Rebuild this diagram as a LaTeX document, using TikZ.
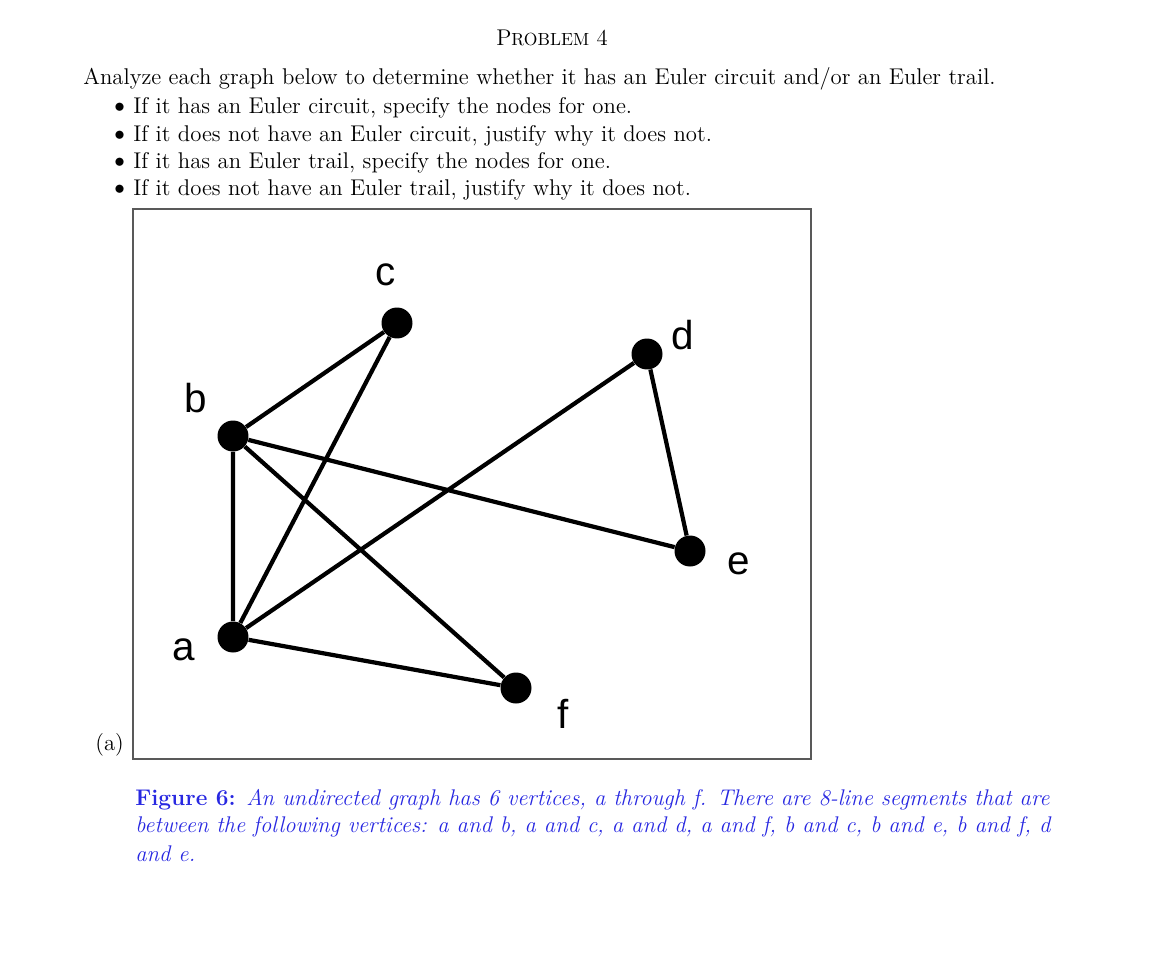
\documentclass[tikz,border=0pt]{standalone}
\usepackage{fontspec}
\setmainfont{Latin Modern Roman}
\setsansfont{Liberation Sans}
\definecolor{capblue}{RGB}{40,40,225}
\begin{document}
\begin{tikzpicture}[x=0.02cm,y=-0.02cm,
  txt/.style={anchor=west,inner sep=0,font=\fontsize{12.95}{15}\selectfont},
  vtx/.style={circle,fill=black,inner sep=0,minimum size=0.62cm},
  lbl/.style={font=\sffamily\fontsize{23}{26}\selectfont,inner sep=0},
  edge/.style={line width=2.4pt},
  captxt/.style={anchor=west,inner sep=0,font=\fontsize{12.9}{15}\selectfont\itshape,text=capblue}]
\useasboundingbox (0,0) rectangle (1174,960);
\node[inner sep=0,font=\fontsize{12.95}{15}\selectfont] (title) at (552,38) {P{\fontsize{10}{12}\selectfont ROBLEM} 4};
\node[txt] (intro) at (83,79) {Analyze each graph below to determine whether it has an Euler circuit and/or an Euler trail.};
\foreach \y/\t [count=\i] in {108/{If it has an Euler circuit, specify the nodes for one.},
  136/{If it does not have an Euler circuit, justify why it does not.},
  163/{If it has an Euler trail, specify the nodes for one.},
  190/{If it does not have an Euler trail, justify why it does not.}}{
  \node[txt] (bul\i) at (114,\y) {$\bullet$};
  \node[txt] (it\i) at (133,\y) {\t};
}
\draw[line width=0.6pt,gray!70!black] (133,209) rectangle (811,759);
\node[txt] (sub) at (95,745) {(a)};
\node[vtx] (c) at (397,323) {};
\node[vtx] (d) at (647,354) {};
\node[vtx] (b) at (233,436) {};
\node[vtx] (e) at (690,551) {};
\node[vtx] (a) at (233,637) {};
\node[vtx] (f) at (516,688) {};
\node[lbl] (lc) at (386,275) {c};
\node[lbl] (ld) at (683,335) {d};
\node[lbl] (lb) at (196,398) {b};
\node[lbl] (le) at (739,564) {e};
\node[lbl] (la) at (184,650) {a};
\node[lbl] (lf) at (563,714) {f};
\draw[edge] (a)--(b) (a)--(c) (a)--(d) (a)--(f) (b)--(c) (b)--(e) (b)--(f) (d)--(e);
\node[captxt] (cap1) at (135,800) {\textbf{\upshape Figure 6:} An undirected graph has 6 vertices, a through f. There are 8-line segments that are};
\node[captxt] (cap2) at (135,827) {between the following vertices: a and b, a and c, a and d, a and f, b and c, b and e, b and f, d};
\node[captxt] (cap3) at (135,854) {and e.};
\end{tikzpicture}
\end{document}
